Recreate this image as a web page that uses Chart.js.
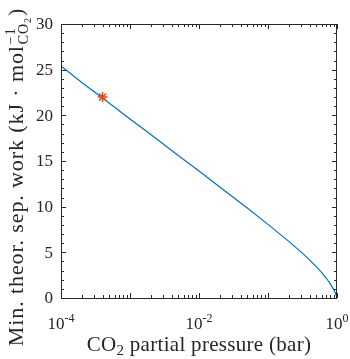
<!DOCTYPE html>
<html>
<head>
<meta charset="utf-8">
<script src="https://cdn.jsdelivr.net/npm/chart.js@4/dist/chart.umd.min.js"></script>
<style>
  html, body { margin: 0; padding: 0; background: #fff; }
</style>
</head>
<body>
<canvas id="c" width="350" height="359"></canvas>
<script>
// CO2 partial pressure (bar) and min. separation work (kJ/mol CO2)
const pressure = [1e-4, 2e-4, 4e-4, 1e-3, 2e-3, 5e-3, 1e-2, 2e-2, 5e-2, 0.1, 0.2, 0.3, 0.4, 0.5, 0.6, 0.7, 0.8, 0.9, 0.95, 0.99, 1];
const work = [25.4, 23.6, 21.9, 19.6, 17.9, 15.6, 13.9, 12.15, 9.85, 8.06, 6.2, 5.05, 4.17, 3.43, 2.78, 2.16, 1.55, 0.89, 0.52, 0.14, 0];

// current air point (star)
const airPressure = [4e-4];
const airWork = [22.0];

const yTicks = [0, 5, 10, 15, 20, 25, 30];
const xTicks = [1e-4, 1e-2, 1];
const xTickExp = ['-4', '-2', '0'];

const SERIF = '"Liberation Serif", "DejaVu Serif", serif';

const decor = {
  id: 'decor',
  afterDraw(chart) {
    const ctx = chart.ctx;
    const a = chart.chartArea;
    const xs = chart.scales.x, ys = chart.scales.y;
    ctx.save();
    ctx.strokeStyle = '#262626';
    ctx.lineWidth = 1;
    ctx.strokeRect(a.left + 0.5, a.top + 0.5, a.right - a.left - 1, a.bottom - a.top);

    // y ticks, inward on both sides
    ctx.beginPath();
    for (let v = 0; v <= 30; v++) {
      const y = Math.round(ys.getPixelForValue(v)) + 0.5;
      const len = v % 5 === 0 ? 5 : 3;
      ctx.moveTo(a.left, y); ctx.lineTo(a.left + len, y);
      ctx.moveTo(a.right, y); ctx.lineTo(a.right - len, y);
    }
    // x ticks (log), inward top and bottom
    for (let e = -4; e <= 0; e++) {
      for (let m = 1; m <= 9; m++) {
        const v = m * Math.pow(10, e);
        if (v > 1.0000001) break;
        const x = Math.round(xs.getPixelForValue(v)) + 0.5;
        const len = m === 1 ? 5 : 3;
        ctx.moveTo(x, a.bottom); ctx.lineTo(x, a.bottom - len);
        ctx.moveTo(x, a.top); ctx.lineTo(x, a.top + len);
      }
    }
    ctx.stroke();

    ctx.fillStyle = '#262626';
    ctx.font = '17px ' + SERIF;
    ctx.textAlign = 'right';
    ctx.textBaseline = 'middle';
    yTicks.forEach(v => ctx.fillText(String(v), a.left - 8, ys.getPixelForValue(v) + 1));

    // x tick labels 10^n
    xTicks.forEach((v, i) => {
      const x = xs.getPixelForValue(v);
      ctx.font = '17px ' + SERIF;
      const w1 = ctx.measureText('10').width;
      ctx.font = '12px ' + SERIF;
      const w2 = ctx.measureText(xTickExp[i]).width;
      const x0 = x - (w1 + w2) / 2;
      ctx.textAlign = 'left';
      ctx.textBaseline = 'alphabetic';
      ctx.font = '17px ' + SERIF;
      ctx.fillText('10', x0, a.bottom + 31);
      ctx.font = '12px ' + SERIF;
      ctx.fillText(xTickExp[i], x0 + w1, a.bottom + 24);
    });

    // x title
    ctx.letterSpacing = '0.3px';
    ctx.font = '21px ' + SERIF;
    const parts = ['CO', '2', ' partial pressure (bar)'];
    const wCO = ctx.measureText(parts[0]).width;
    const wRest = ctx.measureText(parts[2]).width;
    ctx.font = '15px ' + SERIF;
    const wSub = ctx.measureText(parts[1]).width;
    let tx = (a.left + a.right) / 2 - (wCO + wSub + wRest) / 2;
    const ty = 351;
    ctx.font = '21px ' + SERIF;
    ctx.fillText(parts[0], tx, ty);
    ctx.font = '15px ' + SERIF;
    ctx.fillText(parts[1], tx + wCO, ty + 4);
    ctx.font = '21px ' + SERIF;
    ctx.fillText(parts[2], tx + wCO + wSub, ty);

    // y title, rotated
    ctx.letterSpacing = '0.9px';
    ctx.translate(23, 178);
    ctx.rotate(-Math.PI / 2);
    ctx.font = '22px ' + SERIF;
    const s1 = 'Min. theor. sep. work (kJ \u00b7 mol';
    const w1 = ctx.measureText(s1).width;
    ctx.font = '14px ' + SERIF;
    const wSup = ctx.measureText('\u22121').width;
    const wSb = ctx.measureText('CO').width;
    ctx.font = '10px ' + SERIF;
    const wSb2 = ctx.measureText('2').width;
    const wScript = Math.max(wSup, wSb + wSb2);
    ctx.font = '22px ' + SERIF;
    const wClose = ctx.measureText(')').width;
    let sx = -(w1 + wScript + wClose) / 2;
    ctx.fillText(s1, sx, 0);
    ctx.font = '14px ' + SERIF;
    ctx.fillText('\u22121', sx + w1 + 1, -8);
    ctx.fillText('CO', sx + w1 + 1, 5);
    ctx.font = '10px ' + SERIF;
    ctx.fillText('2', sx + w1 + 1 + wSb, 8);
    ctx.font = '22px ' + SERIF;
    ctx.fillText(')', sx + w1 + wScript + 2, 0);
    ctx.restore();
  }
};

new Chart(document.getElementById('c'), {
  type: 'scatter',
  data: {
    datasets: [
      {
        type: 'line',
        data: pressure.map((p, i) => ({ x: p, y: work[i] })),
        borderColor: '#0072BD',
        borderWidth: 1.2,
        pointRadius: 0,
        tension: 0,
        order: 2
      },
      {
        data: airPressure.map((p, i) => ({ x: p, y: airWork[i] })),
        pointStyle: 'star',
        pointRadius: 5,
        borderColor: '#D95319',
        backgroundColor: '#D95319',
        borderWidth: 1.5,
        order: 1
      }
    ]
  },
  options: {
    responsive: false,
    animation: false,
    devicePixelRatio: 1,
    layout: { padding: { left: 61, right: 13, top: 24, bottom: 61 } },
    plugins: { legend: { display: false }, tooltip: { enabled: false } },
    scales: {
      x: {
        type: 'logarithmic', min: 1e-4, max: 1,
        ticks: { display: false },
        grid: { display: false, drawTicks: false },
        border: { display: false }
      },
      y: {
        min: 0, max: 30,
        ticks: { display: false },
        grid: { display: false, drawTicks: false },
        border: { display: false }
      }
    }
  },
  plugins: [decor]
});
</script>
</body>
</html>
